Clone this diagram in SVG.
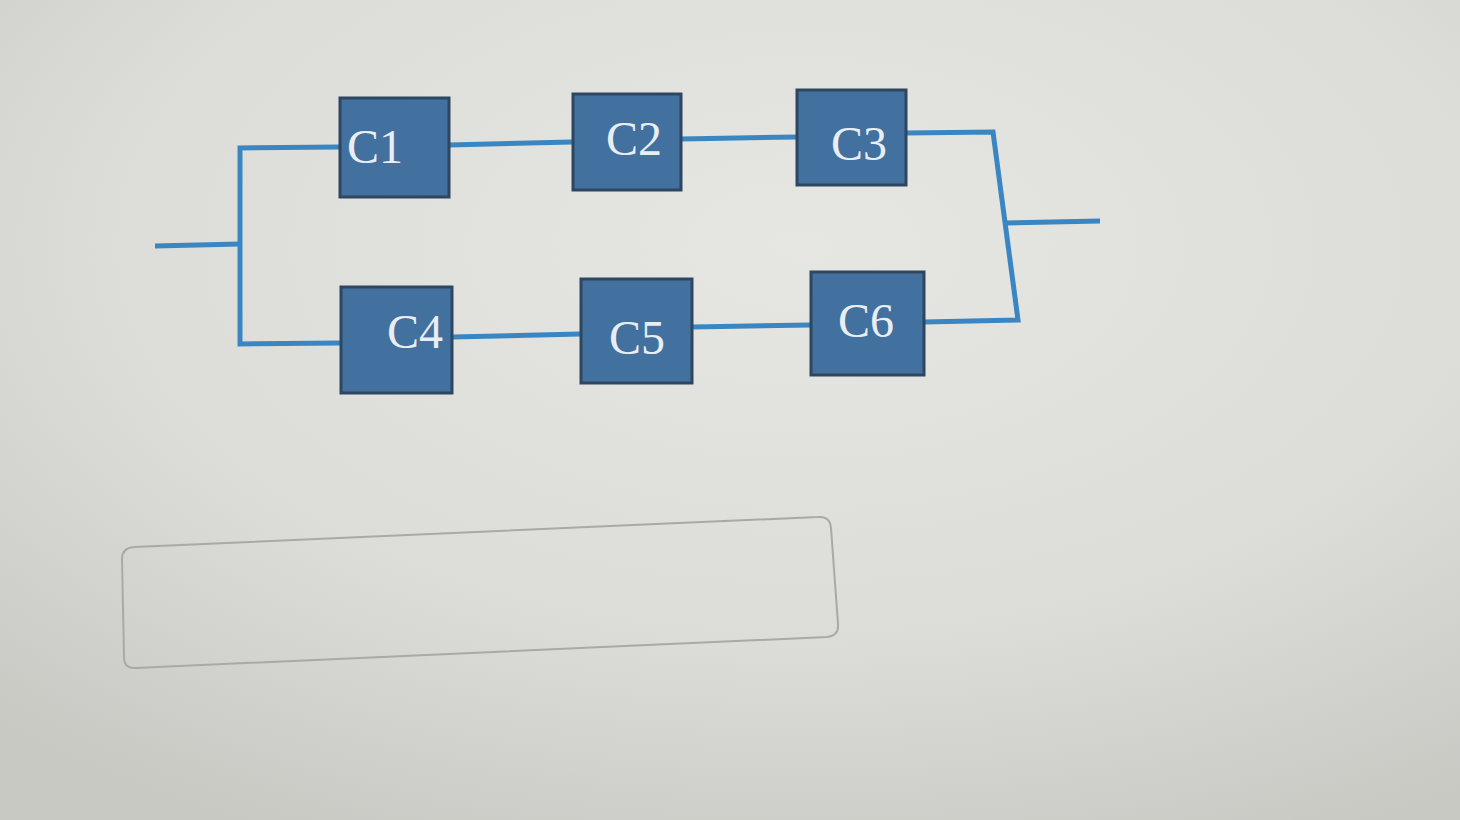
<svg xmlns="http://www.w3.org/2000/svg" width="1460" height="820" viewBox="0 0 1460 820">
<defs>
<radialGradient id="bg" cx="0.55" cy="0.3" r="0.8">
<stop offset="0" stop-color="#e6e6e3"/>
<stop offset="0.6" stop-color="#dcdcd8"/>
<stop offset="1" stop-color="#c9c9c4"/>
</radialGradient>
<style>
.node{fill:#42709f;stroke:#2e4660;stroke-width:3}
.lbl{font-family:"Liberation Serif","DejaVu Serif",serif;font-size:48px;fill:#e9eef4;text-anchor:middle}
.wire{fill:none;stroke:#3a86c2;stroke-width:5;stroke-linejoin:miter}
</style>
</defs>
<rect width="1460" height="820" fill="url(#bg)"/>
<g id="connectors">
<path class="wire" d="M155 246 L240 244"/>
<path class="wire" d="M340 147 L240 148 L240 344 L340 343"/>
<path class="wire" d="M449 145 L572 142"/>
<path class="wire" d="M681 139 L796 137"/>
<path class="wire" d="M906 133 L993 132 L1018 320 L924 322"/>
<path class="wire" d="M1005 223 L1100 221"/>
<path class="wire" d="M452 337 L580 334"/>
<path class="wire" d="M692 327 L810 325"/>
</g>
<g id="C1"><rect class="node" x="340" y="98" width="109" height="99"/><text class="lbl" x="375" y="163">C1</text></g>
<g id="C2"><rect class="node" x="573" y="94" width="108" height="96"/><text class="lbl" x="634" y="155">C2</text></g>
<g id="C3"><rect class="node" x="797" y="90" width="109" height="95"/><text class="lbl" x="859" y="160">C3</text></g>
<g id="C4"><rect class="node" x="341" y="287" width="111" height="106"/><text class="lbl" x="415" y="348">C4</text></g>
<g id="C5"><rect class="node" x="581" y="279" width="111" height="104"/><text class="lbl" x="637" y="354">C5</text></g>
<g id="C6"><rect class="node" x="811" y="272" width="113" height="103"/><text class="lbl" x="866" y="337">C6</text></g>
<g id="box">
<path d="M134 547 L818 517 Q830 516 831 528 L838 624 Q839 636 827 637 L136 668 Q124 669 124 657 L122 559 Q122 548 134 547 Z" fill="none" stroke="#a9a9a6" stroke-width="2"/>
</g>
</svg>
